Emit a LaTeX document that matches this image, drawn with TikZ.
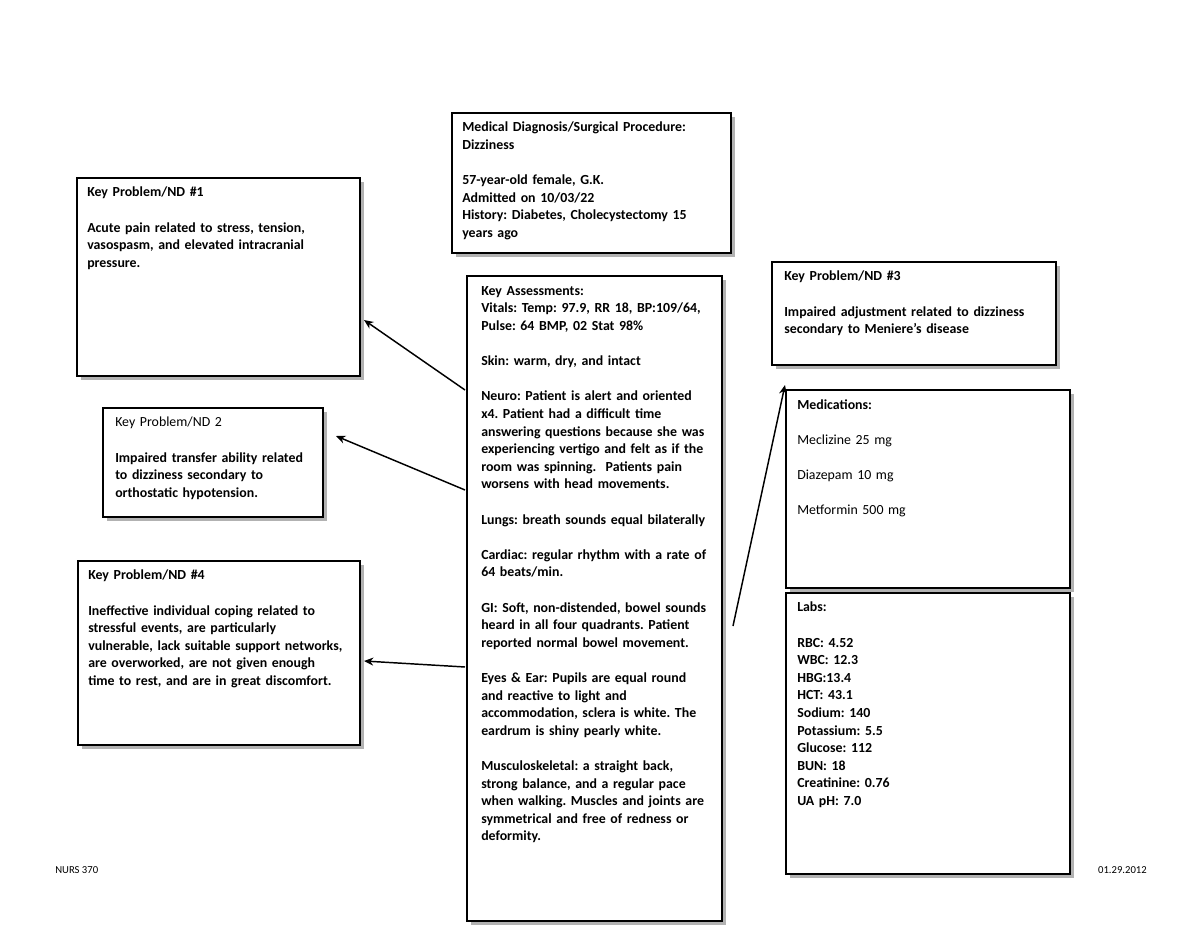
\documentclass[tikz,border=0pt]{standalone}
\usepackage{fontspec}
\setmainfont{Carlito}
\usetikzlibrary{arrows.meta}
\begin{document}
\frenchspacing
\begin{tikzpicture}[x=0.75pt,y=-0.75pt,
  box/.style={draw=black,line width=1.6pt,fill=white},
  shad/.style={fill=gray!60,draw=none},
  txt/.style={anchor=north west,align=left,inner sep=0pt,text width=320*0.75pt,font=\fontsize{10.4}{13.2}\selectfont\bfseries},
  arr/.style={line width=1.1pt,-{Stealth[length=7pt,width=6pt]}}]
\useasboundingbox (0,0) rectangle (1200,927);
\newcommand{\bx}[5]{\fill[shad] (#2+4,#3+4) rectangle (#4+4,#5+4);
  \draw[box] (#2,#3) rectangle (#4,#5); \coordinate (#1) at (#2,#3);}
\bx{md}{452}{113}{731}{253}
\bx{k1}{77}{178}{360}{376}
\bx{k2}{103}{408}{323}{517}
\bx{k4}{78}{561}{360}{745}
\bx{ce}{467}{276}{722}{921}
\bx{k3}{772}{262}{1056}{365}
\bx{me}{786}{390}{1070}{588}
\bx{la}{786}{593}{1070}{874}
\node[txt] (tmd) at (462,122) {Medical Diagnosis/Surgical Procedure:\\Dizziness\\[13.2pt]57-year-old female, G.K.\\Admitted on 10/03/22\\History: Diabetes, Cholecystectomy 15\\years ago};
\node[txt] (tk1) at (87,187) {Key Problem/ND \#1\\[13.2pt]Acute pain related to stress, tension,\\vasospasm, and elevated intracranial\\pressure.};
\node[txt] (tk2) at (115,417) {{\mdseries Key Problem/ND 2}\\[13.2pt]Impaired transfer ability related\\to dizziness secondary to\\orthostatic hypotension.};
\node[txt] (tk4) at (88,570) {Key Problem/ND \#4\\[13.2pt]Ineffective individual coping related to\\stressful events, are particularly\\vulnerable, lack suitable support networks,\\are overworked, are not given enough\\time to rest, and are in great discomfort.};
\node[txt] (tce) at (481,286) {Key Assessments:\\Vitals: Temp: 97.9, RR 18, BP:109/64,\\Pulse: 64 BMP, 02 Stat 98\%\\[13.2pt]Skin: warm, dry, and intact\\[13.2pt]Neuro: Patient is alert and oriented\\x4. Patient had a difficult time\\answering questions because she was\\experiencing vertigo and felt as if the\\room was spinning.\ \ Patients pain\\worsens with head movements.\\[13.2pt]Lungs: breath sounds equal bilaterally\\[13.2pt]Cardiac: regular rhythm with a rate of\\64 beats/min.\\[13.2pt]GI: Soft, non-distended, bowel sounds\\heard in all four quadrants. Patient\\reported normal bowel movement.\\[13.2pt]Eyes \& Ear: Pupils are equal round\\and reactive to light and\\accommodation, sclera is white. The\\eardrum is shiny pearly white.\\[13.2pt]Musculoskeletal: a straight back,\\strong balance, and a regular pace\\when walking. Muscles and joints are\\symmetrical and free of redness or\\deformity.};
\node[txt] (tk3) at (784,271) {Key Problem/ND \#3\\[13.2pt]Impaired adjustment related to dizziness\\secondary to Meniere's disease};
\node[txt] (tme) at (797,399) {Medications:\\[13.2pt]\mdseries Meclizine 25 mg\\[13.2pt]Diazepam 10 mg\\[13.2pt]Metformin 500 mg};
\node[txt] (tla) at (797,602) {Labs:\\[13.2pt]RBC: 4.52\\WBC: 12.3\\HBG:13.4\\HCT: 43.1\\Sodium: 140\\Potassium: 5.5\\Glucose: 112\\BUN: 18\\Creatinine: 0.76\\UA pH: 7.0};
\coordinate (a1) at (465,390); \coordinate (b1) at (364,320);
\coordinate (a2) at (465,490); \coordinate (b2) at (336,436);
\coordinate (a3) at (465,667); \coordinate (b3) at (364,661);
\coordinate (a4) at (733,626); \coordinate (b4) at (785,385);
\draw[arr] (a1) -- (b1);
\draw[arr] (a2) -- (b2);
\draw[arr] (a3) -- (b3);
\draw[arr] (a4) -- (b4);
\node[anchor=west,font=\fontsize{8}{10}\selectfont,inner sep=0pt] (f1) at (55,870) {NURS 370};
\node[anchor=east,font=\fontsize{8}{10}\selectfont,inner sep=0pt] (f2) at (1147,870) {01.29.2012};
\end{tikzpicture}
\end{document}
